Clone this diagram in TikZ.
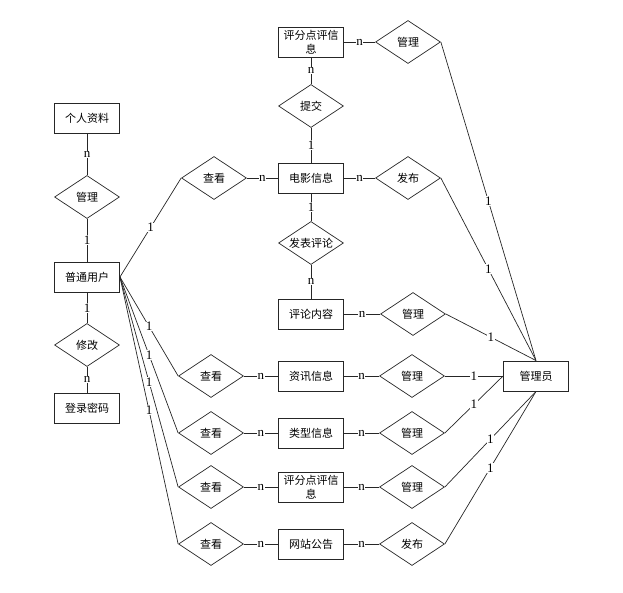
\documentclass[tikz,border=0pt]{standalone}
\usepackage{fontspec}
\setmainfont{Liberation Serif}
\newfontfamily\cjk{Noto Sans CJK SC}
\usetikzlibrary{shapes.geometric}
\begin{document}
\begin{tikzpicture}[x=1pt,y=-1pt,
  ent/.style={draw=black!85, line width=0.9pt, rectangle, minimum width=65pt, minimum height=30pt, inner sep=1pt, font=\cjk\fontsize{11}{14}\selectfont, align=center},
  rel/.style={draw=black!85, line width=0.7pt, diamond, aspect=1.5, minimum width=65pt, minimum height=43pt, inner sep=0pt, font=\cjk\fontsize{11}{12}\selectfont},
  lab/.style={fill=white, inner sep=0.6pt, font=\fontsize{13}{14}\selectfont},
  con/.style={draw=black!85, line width=0.7pt}]
\useasboundingbox (0,0) rectangle (623,593);
% left column
\node[ent] (profile) at (87,118) {个人资料};
\node[rel] (mgL) at (87,197) {管理};
\node[ent] (user) at (87,277) {普通用户};
\node[rel] (modify) at (87,345) {修改};
\node[ent] (pwd) at (87,408) {登录密码};
% middle column
\node[ent] (rate1) at (311,42) {评分点评信\\息};
\node[rel] (mgT) at (408,42) {管理};
\node[rel] (submit) at (311,106) {提交};
\node[ent] (movie) at (311,178) {电影信息};
\node[rel] (view0) at (214,178) {查看};
\node[rel] (pub0) at (408,178) {发布};
\node[rel] (comment) at (311,243) {发表评论};
\node[ent] (content) at (311,314) {评论内容};
\node[rel] (mgC) at (413,314) {管理};
\node[rel] (view1) at (211,376) {查看};
\node[ent] (news) at (311,376) {资讯信息};
\node[rel] (mg1) at (412,376) {管理};
\node[rel] (view2) at (211,433) {查看};
\node[ent] (type) at (311,433) {类型信息};
\node[rel] (mg2) at (412,433) {管理};
\node[rel] (view3) at (211,487) {查看};
\node[ent] (rate2) at (311,487) {评分点评信\\息};
\node[rel] (mg3) at (412,487) {管理};
\node[rel] (view4) at (211,544) {查看};
\node[ent] (notice) at (311,544) {网站公告};
\node[rel] (pub4) at (412,544) {发布};
\node[ent] (admin) at (536,376) {管理员};
% left connectors
\draw[con] (profile) -- node[lab]{n} (mgL);
\draw[con] (mgL) -- node[lab]{1} (user);
\draw[con] (user) -- node[lab]{1} (modify);
\draw[con] (modify) -- node[lab]{n} (pwd);
\draw[con] (user.east) -- node[lab]{1} (view0.west);
\draw[con] (user.east) -- node[lab]{1} (view1.west);
\draw[con] (user.east) -- node[lab]{1} (view2.west);
\draw[con] (user.east) -- node[lab]{1} (view3.west);
\draw[con] (user.east) -- node[lab]{1} (view4.west);
% middle connectors
\draw[con] (rate1) -- node[lab]{n} (mgT);
\draw[con] (rate1) -- node[lab]{n} (submit);
\draw[con] (submit) -- node[lab]{1} (movie);
\draw[con] (view0) -- node[lab]{n} (movie);
\draw[con] (movie) -- node[lab]{n} (pub0);
\draw[con] (movie) -- node[lab]{1} (comment);
\draw[con] (comment) -- node[lab]{n} (content);
\draw[con] (content) -- node[lab]{n} (mgC);
\draw[con] (view1) -- node[lab]{n} (news);
\draw[con] (news) -- node[lab]{n} (mg1);
\draw[con] (view2) -- node[lab]{n} (type);
\draw[con] (type) -- node[lab]{n} (mg2);
\draw[con] (view3) -- node[lab]{n} (rate2);
\draw[con] (rate2) -- node[lab]{n} (mg3);
\draw[con] (view4) -- node[lab]{n} (notice);
\draw[con] (notice) -- node[lab]{n} (pub4);
% admin connectors
\draw[con] (mgT.east) -- node[lab]{1} (admin.north);
\draw[con] (pub0.east) -- node[lab]{1} (admin.north);
\draw[con] (mgC.east) -- node[lab]{1} (admin.north);
\draw[con] (mg1.east) -- node[lab]{1} (admin.west);
\draw[con] (mg2.east) -- node[lab]{1} (admin.west);
\draw[con] (mg3.east) -- node[lab]{1} (admin.south);
\draw[con] (pub4.east) -- node[lab]{1} (admin.south);
\end{tikzpicture}
\end{document}
